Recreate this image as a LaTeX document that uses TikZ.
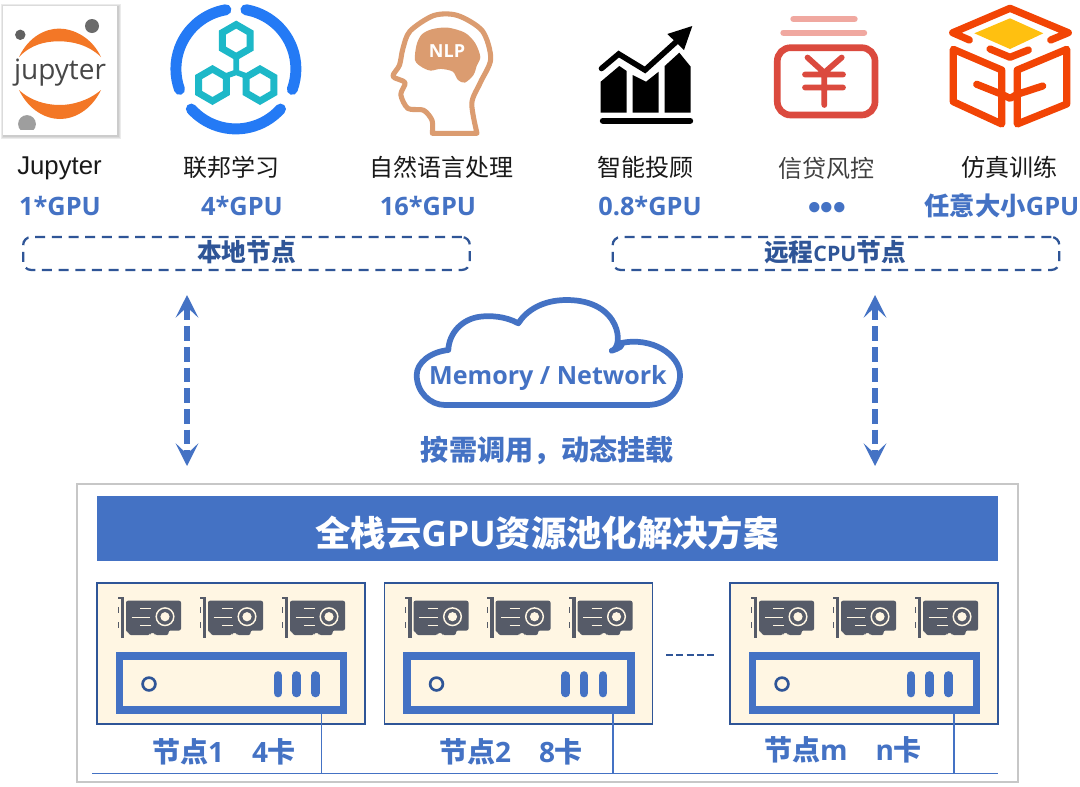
\documentclass[tikz,border=0pt]{standalone}
\usepackage{fontspec}
\usetikzlibrary{arrows.meta}
\newfontfamily\cjk{Noto Sans CJK SC}
\newfontfamily\lat{Open Sans}
\newfontfamily\hel{Liberation Sans}
\definecolor{bl}{HTML}{4472C4}
\definecolor{dbl}{HTML}{2F5597}
\definecolor{cream}{HTML}{FFF6E3}
\definecolor{gpuc}{HTML}{565B68}
\definecolor{fedb}{HTML}{247AF5}
\definecolor{teal1}{HTML}{1DB8C8}
\definecolor{head}{HTML}{DB9C70}
\definecolor{red1}{HTML}{DB4A3E}
\definecolor{red2}{HTML}{F0A8A0}
\definecolor{org}{HTML}{F24405}
\definecolor{jorg}{HTML}{F37726}
\definecolor{yel}{HTML}{FFC010}
\tikzset{
  x=0.75pt,y=-0.75pt,
  ttl/.style={font=\cjk\fontsize{18}{20}\selectfont,text=black!90,inner sep=0},
  gpul/.style={font=\lat\bfseries\fontsize{19}{22}\selectfont,text=bl,inner sep=0},
  gpuk/.style={font=\cjk\bfseries\fontsize{19}{22}\selectfont,text=bl,inner sep=0},
  grp/.style={draw=dbl,line width=1.7pt,dash pattern=on 7.5pt off 5pt,rounded corners=6pt,minimum width=335pt,minimum height=24.7pt,inner sep=0},
  grpt/.style={font=\cjk\bfseries\fontsize{18.5}{20}\selectfont,text=dbl,inner sep=0},
  nodebox/.style={draw=dbl,line width=0.9pt,fill=cream,minimum width=201pt,minimum height=105.75pt,inner sep=0},
  srv/.style={draw=bl,line width=5.6pt,fill=cream,minimum width=168pt,minimum height=40.5pt,inner sep=0},
  nodet/.style={font=\cjk\bfseries\fontsize{21}{22}\selectfont,text=bl,inner sep=0},
  pill/.style={draw=bl,line width=6.5pt,line cap=round},
  bus/.style={draw=bl,line width=1pt},
  link/.style={draw=bl,line width=4.2pt,dash pattern=on 11pt off 4.5pt,{Stealth[length=17pt,width=17pt,inset=8pt]}-{Stealth[length=17pt,width=17pt,inset=8pt]}},
}
\newcommand{\gpucard}[1]{%
\begin{scope}[xshift=#1*0.75pt]
 \fill[gpuc] (120.7,596.7) rectangle (124.3,638.3);
 \fill[gpuc] (117.7,596.7) rectangle (124,598.5);
 \fill[gpuc] (117.5,606.7) rectangle (118.6,613.3);
 \fill[gpuc] (117.5,621.7) rectangle (118.6,628.3);
 \fill[gpuc,rounded corners=1.5pt] (126,600.7) -- (181,600.7) -- (181,630.5) -- (168.5,630.5) -- (168.5,635) -- (155,635) -- (155,633) -- (150,633) -- (150,635) -- (129,635) -- (129,632) -- (126,632) -- cycle;
 \draw[cream,line width=1.1pt] (165,616.7) circle (8.8);
 \fill[cream] (165,616.7) circle (4.6);
 \draw[cream,line width=1pt] (131.7,617.3) -- (150,617.3) (140,608.3) -- (150.7,608.3) (140,625.7) -- (150.7,625.7);
\end{scope}}
\newcommand{\servernode}[6]{% shift, name, unused, cx label, label, y label
\begin{scope}[xshift=#1*0.75pt]
 \node[nodebox] (n#2) at (231,653.5) {};
 \gpucard{0}\gpucard{82}\gpucard{164}
 \node[srv] (s#2) at (231.5,683) {};
 \draw[dbl,line width=2pt] (149,684) circle (6.4);
 \draw[pill] (278,675.5) -- (278,693);
 \draw[pill] (296.5,675.5) -- (296.5,693);
 \draw[pill] (315.5,675.5) -- (315.5,693);
\end{scope}
\node[nodet] (t#2) at (#4,#6) {#5};
}
\begin{document}
\begin{tikzpicture}
\useasboundingbox (0,0) rectangle (1080,786);
\fill[white] (0,0) rectangle (1080,786);

% jupyter icon
\foreach \o/\k in {3.5/8,2.5/14,1.5/20}{\fill[black!\k] (3-\o+1,6-\o+1) rectangle (117+\o,135+\o);}
\fill[white] (3,6) rectangle (117,135);
\fill[jorg] (19,57) .. controls (29,36) and (46,28.6) .. (59,28.6) .. controls (72,28.6) and (91,36) .. (101,57) .. controls (88,44.5) and (72,41.3) .. (59,41.3) .. controls (45,41.3) and (31,44.5) .. (19,57) -- cycle;
\fill[jorg] (19,90) .. controls (29,110.5) and (46,119) .. (60,119) .. controls (74,119) and (91,110.5) .. (101,90) .. controls (88,101) and (72,105) .. (60,105) .. controls (46,105) and (31,101) .. (19,90) -- cycle;
\fill[black!58] (92,26) circle (7);
\fill[black!62] (20.3,34.8) circle (5.2);
\begin{scope}\clip (0,100) rectangle (120,129.6);\fill[black!38] (27,124) circle (8.9);\end{scope}
\node[font=\lat\fontsize{21}{22}\selectfont,text=black!72,inner sep=0] (jup) at (60,72.5) {jupyter};

% federated icon
\begin{scope}[shift={(235.9,68.9)},line width=8.2pt,line cap=round,fedb]
 \draw (-99.6:60) arc[start angle=99.6,end angle=200,radius=45pt];
 \draw (-80.4:60) arc[start angle=80.4,end angle=-20,radius=45pt];
 \draw (-222:60) arc[start angle=222,end angle=318,radius=45pt];
\end{scope}
\begin{scope}[teal1,line width=5.2pt,line join=miter]
 \draw[shift={(236.2,40.6)}] (0,-16) -- (13.85,-8) -- (13.85,8) -- (0,16) -- (-13.85,8) -- (-13.85,-8) -- cycle;
 \draw[shift={(212.5,85)}] (0,-16) -- (13.85,-8) -- (13.85,8) -- (0,16) -- (-13.85,8) -- (-13.85,-8) -- cycle;
 \draw[shift={(260,85)}] (0,-16) -- (13.85,-8) -- (13.85,8) -- (0,16) -- (-13.85,8) -- (-13.85,-8) -- cycle;
 \draw[line width=4.2pt] (236.2,56.8) -- (236.2,72.3) -- (223,77) (236.2,72.3) -- (249,77);
\end{scope}

% head icon
\draw[head,line width=3.8pt,line join=round] plot[smooth,tension=0.5] coordinates {(477,133.3) (471.8,103.3) (480.3,82.6) (490.7,58.9) (482.4,31) (457.6,15.5) (433.9,15.5) (410.1,31) (402.9,48.6) (399.5,65.1) (393,76.4) (405,82.6) (400.8,94.7) (408,108.5) (423.5,110.2) (432.1,120.5) (432.3,133.3)} -- cycle;
\fill[head] plot[smooth cycle,tension=0.5] coordinates {(415,60.2) (421.8,67.1) (430.5,70.6) (440.8,68.9) (452.8,71.6) (457.9,79.9) (464.9,82.6) (473.4,75.1) (476.9,65.4) (480.3,56.8) (475.2,43.1) (464.9,32.7) (447.6,27.6) (432.1,29.2) (421.8,34.4) (416.6,44.7)};
\node[font=\lat\bfseries\fontsize{13.5}{14}\selectfont,text=white,inner sep=0] (nlp) at (447,50.8) {NLP};

% chart icon
\begin{scope}[black]
 \fill (600.7,81.7) -- (619.3,66) -- (626.7,71) -- (626.7,112.7) -- (600.7,112.7) -- cycle;
 \fill (632.7,75) -- (646,81.7) -- (658.7,71.7) -- (658.7,112.7) -- (632.7,112.7) -- cycle;
 \fill (664.7,66) -- (679.3,52.7) -- (690.7,66.7) -- (690.7,112.7) -- (664.7,112.7) -- cycle;
 \draw[line width=4.8pt,line cap=round] (603,120.7) -- (690,120.7);
 \draw[line width=4.2pt,line cap=round,line join=miter] (601.5,68.5) -- (618.7,54) -- (645,70) -- (676,42);
 \fill (667.3,34) -- (692.3,26) -- (684,50) -- cycle;
\end{scope}

% money icon
\draw[red2,line width=4.8pt,line cap=round] (793.5,19) -- (854.5,19) (783.5,32.7) -- (864,32.7);
\draw[red1,line width=5pt,rounded corners=10pt] (777.3,47.7) rectangle (875,115);
\draw[red1,line width=4.3pt,line cap=round,line join=round] (807.5,57.5) -- (824.3,72.7) -- (841.7,57.5) (805,74.5) -- (843,74.5) (805,87.5) -- (843,87.5) (824.3,72.7) -- (824.3,105);

% box icon
\fill[yel] (974.3,33.3) -- (1010,18.3) -- (1043.3,33.3) -- (1010,49) -- cycle;
\begin{scope}[org,line width=5.4pt,line cap=round,line join=round]
 \draw (969.3,40) -- (952.7,32.7) -- (1010,8.3) -- (1068.3,32.7) -- (1050.7,40);
 \draw (990,49) -- (1010,57.3) -- (1028.3,50);
 \draw (953.3,49.3) -- (1001.7,70) -- (1001.7,124) -- (953.3,101.7) -- cycle;
 \draw (1017.3,70) -- (1066.7,49.3) -- (1066.7,104) -- (1017.3,124) -- cycle;
 \draw (976.7,84.3) -- (1001.7,94.3) -- (1010,98.3) -- (1017.3,94.3) -- (1042.7,86);
\end{scope}

% titles
\node[ttl,font=\hel\fontsize{19.3}{20}\selectfont] (l1) at (59.5,168.5) {Jupyter};
\node[ttl] (l2) at (231,167) {联邦学习};
\node[ttl] (l3) at (441,167) {自然语言处理};
\node[ttl] (l4) at (645,167) {智能投顾};
\node[ttl,text=black!75] (l5) at (826,168) {信贷风控};
\node[ttl] (l6) at (1009,167) {仿真训练};
\node[gpul] (g1) at (60,206) {1*GPU};
\node[gpul] (g2) at (242,206) {4*GPU};
\node[gpul] (g3) at (428,206) {16*GPU};
\node[gpul] (g4) at (650,206) {0.8*GPU};
\node[gpul,font=\hel\bfseries\fontsize{27}{28}\selectfont] (g5) at (827,211) {•••};
\node[gpuk] (g6) at (1002,206) {任意大小{\lat GPU}};

% groups
\node[grp] (loc) at (246.5,253.5) {};
\node[grp] (rem) at (836,253.5) {};
\node[grpt] (loct) at (246.5,252) {本地节点};
\node[grpt] (remt) at (835,252) {远程{\lat\fontsize{16}{20}\selectfont CPU}节点};

% links
\coordinate (a1) at (187,295);
\coordinate (a2) at (187,466);
\coordinate (b1) at (875,295);
\coordinate (b2) at (875,466);
\draw[link] (a1) -- (a2);
\draw[link] (b1) -- (b2);

% cloud
\draw[bl,line width=4.3pt,line join=round,fill=white] (445,405) -- (646.7,405) .. controls (667,405) and (680,392) .. (680,375) .. controls (680,355) and (652,336) .. (620,343.3) .. controls (625,345) and (618,349) .. (611.7,350.7) .. controls (624,348) and (622,300) .. (566.7,300) .. controls (542,300) and (526,311) .. (518.3,323.3) .. controls (505,316) and (490,315.5) .. (480,316.7) .. controls (462,319) and (449,333) .. (448.3,350) .. controls (430,352) and (416.7,363) .. (416.7,375) .. controls (416.7,392) and (430,405) .. (445,405) -- cycle;
\node[font=\lat\bfseries\fontsize{18.8}{22}\selectfont,text=bl,inner sep=0] (mem) at (548,377.5) {Memory / Network};
\node[font=\cjk\bfseries\fontsize{21.1}{24}\selectfont,text=bl,inner sep=0] (dyn) at (547.5,450) {按需调用，动态挂载};

% pool
\node[draw=black!22,line width=1.1pt,minimum width=705.75pt,minimum height=223.5pt,inner sep=0] (pool) at (547.5,633) {};
\node[fill=bl,minimum width=675.75pt,minimum height=48.75pt,inner sep=0] (bar) at (547.5,528.5) {};
\node[inner sep=0,font=\cjk\bfseries\fontsize{26.5}{30}\selectfont,text=white] (bart) at (547,532.5) {全栈云{\lat GPU}资源池化解决方案};
\servernode{0}{1}{0}{224}{节点{\lat 1}\hspace{21pt}{\lat 4}卡}{752}
\servernode{287.5}{2}{0}{511}{节点{\lat 2}\hspace{21pt}{\lat 8}卡}{752}
\servernode{633}{3}{0}{843}{节点{\lat m}\hspace{21pt}{\lat n}卡}{750}
\coordinate (dl) at (666,655);
\coordinate (dr) at (714,655);
\draw[dbl,line width=1.7pt,dash pattern=on 5.3pt off 2.4pt] (dl) -- (dr);
\coordinate (busl) at (92,773.5);
\coordinate (busr) at (998,773.5);
\draw[bus] (busl) -- (busr);
\coordinate (d1) at (321.7,773.5);
\coordinate (d2) at (613,773.5);
\coordinate (d3) at (954,773.5);
\draw[bus] (s1.south -| d1) -- (d1);
\draw[bus] (s2.south -| d2) -- (d2);
\draw[bus] (s3.south -| d3) -- (d3);
\end{tikzpicture}
\end{document}
